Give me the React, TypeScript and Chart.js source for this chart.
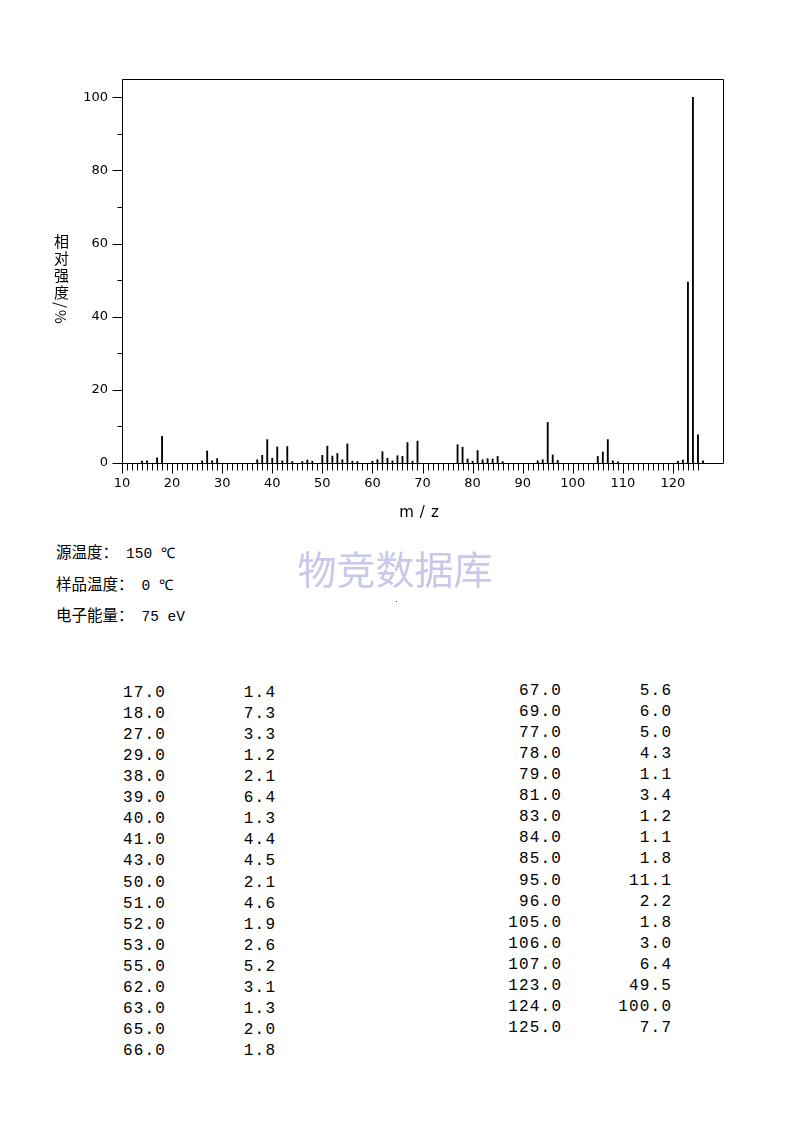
import React, { useEffect, useRef } from 'react';
import { Chart, registerables } from 'chart.js';

Chart.register(...registerables);

// Peaks listed in the table (m/z, relative intensity %)
const tableMz = [17, 18, 27, 29, 38, 39, 40, 41, 43, 50, 51, 52, 53, 55, 62, 63, 65, 66, 67, 69, 77, 78, 79, 81, 83, 84, 85, 95, 96, 105, 106, 107, 123, 124, 125];
const tableIntensity = [1.4, 7.3, 3.3, 1.2, 2.1, 6.4, 1.3, 4.4, 4.5, 2.1, 4.6, 1.9, 2.6, 5.2, 3.1, 1.3, 2.0, 1.8, 5.6, 6.0, 5.0, 4.3, 1.1, 3.4, 1.2, 1.1, 1.8, 11.1, 2.2, 1.8, 3.0, 6.4, 49.5, 100.0, 7.7];
// Small peaks (<1%) visible in the plot but not in the table
const minorMz = [14, 15, 26, 28, 37, 42, 44, 46, 47, 48, 54, 56, 57, 60, 61, 64, 68, 80, 82, 86, 93, 94, 97, 108, 109, 121, 122, 126];
const minorIntensity = [0.5, 0.6, 0.6, 0.6, 0.9, 0.6, 0.4, 0.4, 0.8, 0.5, 0.9, 0.5, 0.4, 0.5, 0.9, 0.6, 0.5, 0.5, 0.9, 0.4, 0.6, 0.9, 0.7, 0.6, 0.3, 0.5, 0.8, 0.6];

const leftRows = 18;
const infoLabels = ['源温度：', '样品温度：', '电子能量：'];
const infoValues = ['150 ℃', '0 ℃', '75 eV'];
const yTitle = '相对强度/%';
const xTitle = 'm/z';
const watermark = '物竞数据库';

const X_MIN = 10;
const X_MAX = 130;
const X_TICK_LAST = 125;
const Y_MIN = 0;
const Y_MAX = 105;

const frameTicks = {
  id: 'frameTicks',
  afterDraw(chart: any) {
    const { ctx, chartArea: a, scales } = chart;
    const x = scales.x;
    const y = scales.y;
    ctx.save();
    ctx.strokeStyle = '#000';
    ctx.lineWidth = 1;
    ctx.beginPath();
    const L = Math.round(a.left) + 0.5;
    const R = Math.round(a.right) + 0.5;
    const T = Math.round(a.top) + 0.5;
    const B = Math.round(a.bottom) + 0.5;
    ctx.moveTo(L, B);
    ctx.lineTo(L, T);
    ctx.lineTo(R, T);
    ctx.lineTo(R, B);
    ctx.lineTo(L, B);
    for (let v = X_MIN; v <= X_TICK_LAST; v++) {
      const px = Math.round(x.getPixelForValue(v)) + 0.5;
      const len = v % 10 === 0 ? 10 : 7;
      ctx.moveTo(px, B);
      ctx.lineTo(px, B + len);
    }
    for (let v = 0; v <= 100; v += 10) {
      const py = Math.round(y.getPixelForValue(v)) + 0.5;
      const len = v % 20 === 0 ? 10 : 5;
      ctx.moveTo(L - len, py);
      ctx.lineTo(L, py);
    }
    ctx.stroke();
    ctx.restore();
  },
};

export default function App() {
  const ref = useRef<HTMLCanvasElement | null>(null);

  useEffect(() => {
    if (!ref.current) return;
    const points = [
      ...minorMz.map((m, i) => ({ x: m, y: minorIntensity[i] })),
      ...tableMz.map((m, i) => ({ x: m, y: tableIntensity[i] })),
    ].sort((p, q) => p.x - q.x);
    const tickFont = { family: '"DejaVu Sans", sans-serif', size: 13 };
    const chart = new Chart(ref.current, {
      type: 'bar',
      data: {
        datasets: [
          {
            data: points,
            backgroundColor: '#000',
            borderWidth: 0,
            barThickness: 1.2,
          },
        ],
      },
      options: {
        animation: false,
        responsive: false,
        devicePixelRatio: 1,
        layout: { padding: { left: 52, right: 71, top: 79, bottom: 17 } },
        plugins: { legend: { display: false }, tooltip: { enabled: false } },
        scales: {
          x: {
            type: 'linear',
            min: X_MIN,
            max: X_MAX,
            offset: false,
            grid: { display: false, drawTicks: false },
            border: { display: false },
            ticks: {
              stepSize: 10,
              autoSkip: false,
              maxRotation: 0,
              color: '#000',
              font: tickFont,
              padding: 13,
              callback: (v: any) => (v <= 120 && v % 10 === 0 ? String(v) : ''),
            },
            afterFit: (s: any) => {
              s.height = 60;
            },
          },
          y: {
            min: Y_MIN,
            max: Y_MAX,
            grid: { display: false, drawTicks: false },
            border: { display: false },
            ticks: {
              stepSize: 20,
              color: '#000',
              font: tickFont,
              padding: 14,
              callback: (v: any) => (v % 20 === 0 && v <= 100 ? String(v) : ''),
            },
            afterFit: (s: any) => {
              s.width = 70;
            },
          },
        },
      },
      plugins: [frameTicks],
    } as any);
    return () => chart.destroy();
  }, []);

  const mono = '"Liberation Mono", "DejaVu Sans Mono", monospace';
  const cjk = '"Noto Sans CJK SC", sans-serif';
  const rowH = 21.06;

  const renderTable = (start: number, end: number, top: number, mzRight: number, intRight: number) => {
    const rows = tableMz.slice(start, end).map((m, i) => ({ m, v: tableIntensity[start + i] }));
    const colStyle = (right: number): React.CSSProperties => ({
      position: 'absolute',
      top,
      left: right - 100,
      width: 100 + 1.2,
      textAlign: 'right',
      fontFamily: mono,
      fontSize: 16,
      letterSpacing: '1.2px',
      lineHeight: rowH + 'px',
      color: '#000',
    });
    return (
      <>
        <div style={colStyle(mzRight)}>
          {rows.map((r, i) => (
            <div key={i}>{r.m.toFixed(1)}</div>
          ))}
        </div>
        <div style={colStyle(intRight)}>
          {rows.map((r, i) => (
            <div key={i}>{r.v.toFixed(1)}</div>
          ))}
        </div>
      </>
    );
  };

  return (
    <div style={{ position: 'absolute', left: 0, top: 0, width: 794, height: 1134, background: '#fff' }}>
      <canvas ref={ref} width={794} height={540} style={{ position: 'absolute', left: 0, top: 0, width: 794, height: 540 }} />
      <div
        style={{
          position: 'absolute',
          left: 53,
          top: 234,
          writingMode: 'vertical-rl',
          fontFamily: cjk,
          fontSize: 15,
          letterSpacing: '2px',
          lineHeight: '16px',
          color: '#000',
        }}
      >
        {yTitle}
      </div>
      <div
        style={{
          position: 'absolute',
          left: 322,
          width: 200,
          top: 502,
          textAlign: 'center',
          fontFamily: '"DejaVu Sans", sans-serif',
          fontSize: 15,
          letterSpacing: '6px',
          lineHeight: '20px',
          color: '#000',
        }}
      >
        {xTitle}
      </div>
      {infoLabels.map((lab, i) => (
        <div
          key={i}
          style={{
            position: 'absolute',
            left: 56,
            top: 541 + i * 31.5,
            fontSize: 15.5,
            lineHeight: '20px',
            color: '#000',
            whiteSpace: 'pre',
          }}
        >
          <span style={{ fontFamily: cjk }}>{lab}</span>
          <span style={{ fontFamily: mono, fontSize: 14.5, marginLeft: 8 }}>{infoValues[i]}</span>
        </div>
      ))}
      <div
        style={{
          position: 'absolute',
          left: -2,
          width: 794,
          top: 547,
          textAlign: 'center',
          fontFamily: cjk,
          fontSize: 39,
          lineHeight: '40px',
          color: '#c8c8ea',
        }}
      >
        {watermark}
      </div>
      <div style={{ position: 'absolute', left: 396, top: 601, width: 1, height: 1, background: '#444' }} />
      {renderTable(0, leftRows, 693.5 - rowH / 2, 165, 275)}
      {renderTable(leftRows, tableMz.length, 691.5 - rowH / 2, 561, 671)}
    </div>
  );
}
